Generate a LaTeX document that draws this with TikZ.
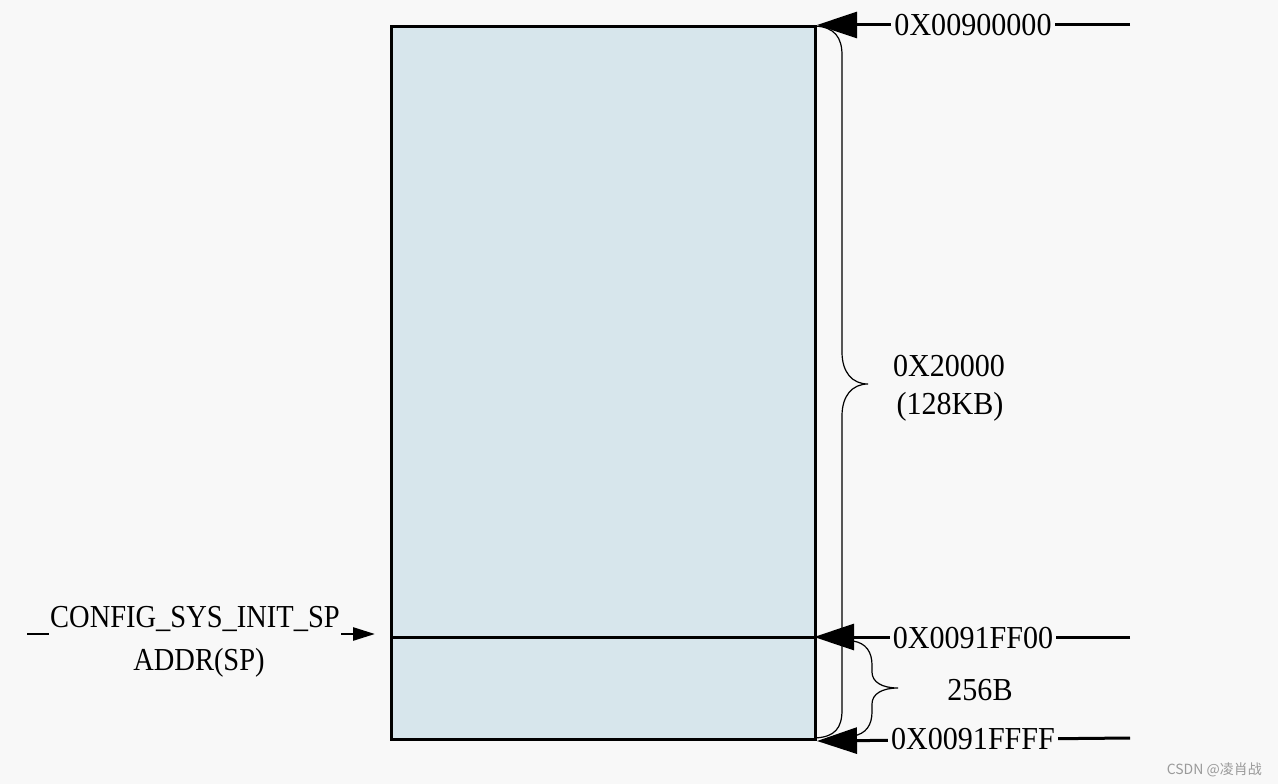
\documentclass[tikz,border=0pt]{standalone}
\usepackage{fontspec}
\setmainfont[FakeStretch=0.94]{Liberation Serif}
\newfontfamily\narrowfont[FakeStretch=0.89]{Liberation Serif}
\newfontfamily\cjk{Noto Sans CJK SC}
\usetikzlibrary{arrows.meta}
\definecolor{bg}{HTML}{F8F8F8}
\definecolor{mem}{HTML}{D7E6EC}
\definecolor{wmark}{HTML}{9A9A9A}
\tikzset{
  lbl/.style={font=\fontsize{32}{38}\selectfont, fill=bg, inner xsep=3pt, inner ysep=2pt, anchor=base},
  plainlbl/.style={font=\fontsize{32}{38}\selectfont, inner sep=0pt, anchor=base},
  addr/.style={line width=3pt, -{Triangle[length=40pt,width=26pt]}},
  sparrow/.style={line width=2.6pt, -{Triangle[length=22pt,width=13pt]}},
  bracel/.style={line width=1.2pt, line cap=round},
  memline/.style={line width=3pt}
}
\begin{document}
\begin{tikzpicture}[x=1pt,y=-1pt]
\fill[bg] (0,0) rectangle (1278,784);
\useasboundingbox (0,0) rectangle (1278,784);

% memory block
\node[draw, fill=mem, memline, minimum width=424pt, minimum height=713pt, inner sep=0pt, anchor=north west] (mem) at (390,25) {};
\coordinate (spL) at (390,637);
\coordinate (spR) at (814,637);
\draw[memline] (spL) -- (spR);

% braces
\draw[bracel] (815,26) .. controls (835,27) and (842,38) .. (842,55) -- (842,352)
  .. controls (842,372) and (852,384) .. (868,384)
  .. controls (852,384) and (842,396) .. (842,416) -- (842,710)
  .. controls (842,728) and (835,737) .. (815,738);
\draw[bracel] (853,641) .. controls (866,643) and (872,652) .. (872,665) -- (872,672)
  .. controls (872,682) and (882,688) .. (898,688)
  .. controls (882,688) and (872,694) .. (872,704) -- (872,712)
  .. controls (872,725) and (866,734) .. (853,736);

% address arrows
\coordinate (t0) at (1130,25);
\coordinate (t1) at (1130,637);
\coordinate (t2) at (1130,738);
\draw[addr] (t0) -- (mem.north east);
\draw[addr] (t1) -- (spR);
\draw[addr] (t2) -- (mem.south east);
\node[lbl] (a0) at (973,36) {0X00900000};
\node[lbl] (a1) at (973,648) {0X0091FF00};
\node[lbl] (a2) at (973,749) {0X0091FFFF};

% sizes
\node[plainlbl] (s1) at (949,376) {0X20000};
\node[plainlbl] (s2) at (950,414) {(128KB)};
\node[plainlbl] (s3) at (980,700) {256B};

% stack pointer arrow
\coordinate (p0) at (27,634);
\coordinate (p1) at (375,634);
\draw[sparrow] (p0) -- (p1);
\node[lbl, font=\narrowfont\fontsize{32}{38}\selectfont, inner ysep=7pt, inner xsep=1pt] (c1) at (195,627) {CONFIG\_SYS\_INIT\_SP};
\node[plainlbl, font=\narrowfont\fontsize{32}{38}\selectfont] (c2) at (199,670) {ADDR(SP)};

% watermark
\node[font=\cjk\fontsize{14}{16}\selectfont, text=wmark, anchor=base east, inner sep=0pt] (wm) at (1262,774) {CSDN @凌肖战};
\end{tikzpicture}
\end{document}
